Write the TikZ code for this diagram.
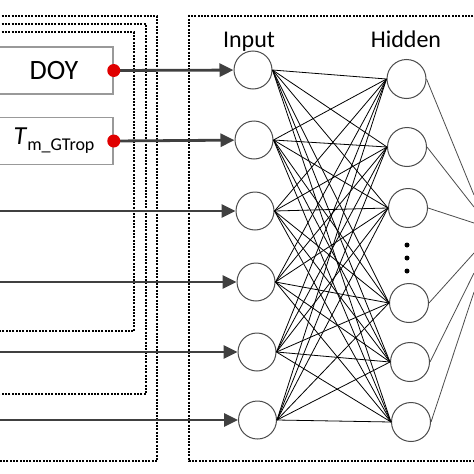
\documentclass[tikz,border=0pt]{standalone}
\usepackage{fontspec}
\setmainfont{Carlito}
\usetikzlibrary{arrows.meta}
\definecolor{feedgray}{HTML}{404040}
\definecolor{portred}{HTML}{E00000}

\begin{document}
\begin{tikzpicture}[x=1pt,y=-1pt]

\tikzset{neuron/.style = {shape=circle,draw=black!70,line width=1pt,minimum size=38pt,inner sep=0pt}}
\tikzset{feed/.style = {-{Triangle[length=14pt,width=13pt]},line width=2.8pt,draw=feedgray}}
\tikzset{group/.style = {draw,line width=2pt,dash pattern=on 2pt off 1.3pt}}
\tikzset{inbox/.style = {draw=black!40,line width=1.5pt,minimum width=118pt,minimum height=47pt,inner sep=0pt}}
\tikzset{port/.style = {shape=circle,fill=portred,inner sep=0pt,minimum size=13pt}}
\tikzset{weight/.style = {line width=0.8pt}}
\tikzset{dot/.style = {shape=circle,fill=black,inner sep=0pt,minimum size=5pt}}
\useasboundingbox (0,0) rectangle (474,474);
%groups
\draw[group] (-5,32) -| (134,331) -- (-5,331);
\draw[group] (-5,24) -| (146,394) -- (-5,394);
\draw[group] (-5,16) -| (157,461) -- (-5,461);
\draw[group] (480,16) -| (189,461) -- (480,461);
%input boxes
\node[inbox] (doy) at (54,70.5) {\fontsize{28}{28}\selectfont DOY};
\node[inbox] (tm) at (54,141) {\fontsize{26}{26}\selectfont\textit{T}\raisebox{-6pt}{\fontsize{18}{18}\selectfont m\_GTrop}};
%layer labels
\node[anchor=base, font=\fontsize{24}{24}\selectfont] (inlabel) at (249,47) {Input};
\node[anchor=base, font=\fontsize{24}{24}\selectfont] (hidlabel) at (406,47) {Hidden};
%input neurons
\node[neuron] (i1) at (253,70) {};
\node[neuron] (i2) at (254,140) {};
\node[neuron] (i3) at (255,211) {};
\node[neuron] (i4) at (256,282) {};
\node[neuron] (i5) at (257,352) {};
\node[neuron] (i6) at (257.5,420) {};
%hidden neurons
\node[neuron, minimum size=39pt] (h1) at (406.5,79) {};
\node[neuron, minimum size=39pt] (h2) at (407,147) {};
\node[neuron, minimum size=39pt] (h3) at (408,208) {};
\node[neuron, minimum size=39pt] (h4) at (409,303) {};
\node[neuron, minimum size=39pt] (h5) at (410,362) {};
\node[neuron, minimum size=39pt] (h6) at (411,422) {};
\node[dot] (d1) at (407,245) {};
\node[dot] (d2) at (407,258) {};
\node[dot] (d3) at (407,271) {};
%free ends
\coordinate (s3) at (-5,211);
\coordinate (s4) at (-5,282);
\coordinate (s5) at (-5,352);
\coordinate (s6) at (-5,420);
\coordinate (o1) at (474,195);
\coordinate (o2) at (474,207);
\coordinate (o3) at (474,223);
\coordinate (o4) at (474,253);
\coordinate (o5) at (474,273);
\coordinate (o6) at (474,292);
%edges
\draw[feed] (doy.east) -- (i1);
\draw[feed] (tm.east) -- (i2);
\draw[feed] (s3) -- (i3);
\draw[feed] (s4) -- (i4);
\draw[feed] (s5) -- (i5);
\draw[feed] (s6) -- (i6);
\node[port] (p1) at (doy.east) {};
\node[port] (p2) at (tm.east) {};
\foreach \a in {1,...,6}
  \foreach \b in {1,...,6}
    \draw[weight] (i\a.east) -- (h\b.west);
\foreach \b in {1,...,6}
  \draw[weight, draw=black!70] (h\b.east) -- (o\b);

\end{tikzpicture}
\end{document}
